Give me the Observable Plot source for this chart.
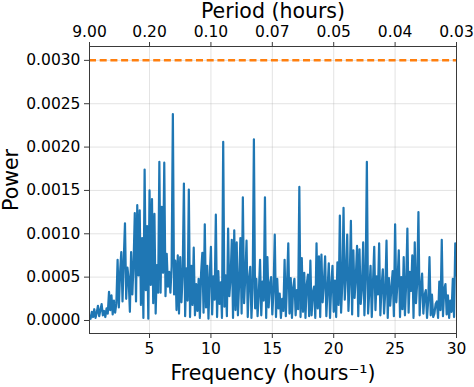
<!DOCTYPE html>
<html><head><meta charset="utf-8">
<script src="https://cdn.jsdelivr.net/npm/d3@7"></script>
<script src="https://cdn.jsdelivr.net/npm/@observablehq/plot@0.6"></script>
<style>body{margin:0;background:#fff;}</style>
</head><body><div id="chart"></div>
<script>
const frequency = [
0.1,0.2,0.3,0.4,0.5,0.6,0.7,0.8,0.9,1.0,
1.1,1.2,1.3,1.4,1.5,1.6,1.7,1.8,1.9,2.0,
2.1,2.2,2.3,2.4,2.5,2.6,2.7,2.8,2.9,3.0,
3.1,3.2,3.3,3.4,3.5,3.6,3.7,3.8,3.9,4.0,
4.1,4.2,4.3,4.4,4.5,4.6,4.7,4.8,4.9,5.0,
5.1,5.2,5.3,5.4,5.5,5.6,5.7,5.8,5.9,6.0,
6.1,6.2,6.3,6.4,6.5,6.6,6.7,6.8,6.9,7.0,
7.1,7.2,7.3,7.4,7.5,7.6,7.7,7.8,7.9,8.0,
8.1,8.2,8.3,8.4,8.5,8.6,8.7,8.8,8.9,9.0,
9.1,9.2,9.3,9.4,9.5,9.6,9.7,9.8,9.9,10.0,
10.1,10.2,10.3,10.4,10.5,10.6,10.7,10.8,10.9,11.0,
11.1,11.2,11.3,11.4,11.5,11.6,11.7,11.8,11.9,12.0,
12.1,12.2,12.3,12.4,12.5,12.6,12.7,12.8,12.9,13.0,
13.1,13.2,13.3,13.4,13.5,13.6,13.7,13.8,13.9,14.0,
14.1,14.2,14.3,14.4,14.5,14.6,14.7,14.8,14.9,15.0,
15.1,15.2,15.3,15.4,15.5,15.6,15.7,15.8,15.9,16.0,
16.1,16.2,16.3,16.4,16.5,16.6,16.7,16.8,16.9,17.0,
17.1,17.2,17.3,17.4,17.5,17.6,17.7,17.8,17.9,18.0,
18.1,18.2,18.3,18.4,18.5,18.6,18.7,18.8,18.9,19.0,
19.1,19.2,19.3,19.4,19.5,19.6,19.7,19.8,19.9,20.0,
20.1,20.2,20.3,20.4,20.5,20.6,20.7,20.8,20.9,21.0,
21.1,21.2,21.3,21.4,21.5,21.6,21.7,21.8,21.9,22.0,
22.1,22.2,22.3,22.4,22.5,22.6,22.7,22.8,22.9,23.0,
23.1,23.2,23.3,23.4,23.5,23.6,23.7,23.8,23.9,24.0,
24.1,24.2,24.3,24.4,24.5,24.6,24.7,24.8,24.9,25.0,
25.1,25.2,25.3,25.4,25.5,25.6,25.7,25.8,25.9,26.0,
26.1,26.2,26.3,26.4,26.5,26.6,26.7,26.8,26.9,27.0,
27.1,27.2,27.3,27.4,27.5,27.6,27.7,27.8,27.9,28.0,
28.1,28.2,28.3,28.4,28.5,28.6,28.7,28.8,28.9,29.0,
29.1,29.2,29.3,29.4,29.5,29.6,29.7,29.8,29.9,30.0
];
// power in units of 1e-4
const powerE4 = [
0.6,0.2,1.0,0.4,1.3,0.3,0.9,1.7,0.5,1.2,
1.9,0.6,1.1,0.4,1.4,0.8,3.3,1.2,2.9,0.7,
2.3,0.9,2.0,7.0,1.5,5.5,7.9,2.2,7.0,11.2,
2.5,6.1,4.8,1.0,7.9,3.0,6.6,12.4,2.2,13.3,
5.2,12.7,1.8,9.5,0.3,17.4,3.5,10.9,0.2,15.0,
4.1,14.0,2.0,12.3,0.8,6.4,3.2,18.3,3.2,13.1,
5.5,18.2,2.8,7.7,3.9,5.6,3.2,6.2,23.8,3.0,
6.9,1.2,7.5,0.8,7.3,2.1,5.4,15.8,0.5,6.0,
2.3,15.1,0.4,6.3,1.8,8.4,0.6,4.2,1.1,4.8,
0.3,5.5,7.8,0.9,11.1,1.5,6.3,0.2,4.9,8.5,
0.7,5.1,2.4,12.2,0.4,5.7,1.9,4.4,0.3,20.6,
1.6,5.2,0.5,10.6,2.8,4.9,9.3,0.3,10.4,1.2,
9.0,0.6,4.4,9.5,0.8,14.2,2.0,5.1,9.2,0.4,
4.7,6.2,0.3,3.8,20.9,1.4,4.8,0.5,3.1,7.0,
0.6,4.5,2.3,14.2,0.3,7.3,1.5,4.2,5.0,0.7,
3.6,9.9,0.4,4.8,1.4,3.1,0.3,2.5,1.1,7.0,
0.5,4.3,8.9,0.8,4.9,0.3,3.8,4.8,0.6,3.5,
1.3,15.4,0.4,7.2,1.0,5.5,0.3,4.1,5.3,0.5,
6.9,0.6,3.2,3.9,0.3,8.9,1.4,7.4,0.4,7.6,
2.1,4.3,7.4,0.5,3.6,6.6,0.3,4.1,6.3,1.0,
4.6,0.4,6.7,1.8,12.1,0.9,4.2,13.0,2.4,5.2,
9.9,1.1,4.5,11.5,0.7,8.1,2.6,5.0,8.6,0.5,
8.2,1.9,3.7,9.0,0.6,4.8,18.3,0.8,3.4,6.3,
0.4,4.4,8.5,1.2,5.1,3.0,8.9,0.6,4.0,5.9,
0.8,3.3,9.2,0.3,4.9,1.7,3.8,5.7,0.5,11.1,
2.1,4.6,8.1,0.4,5.0,1.3,7.3,0.6,4.2,10.6,
0.9,5.6,3.4,7.5,0.3,9.0,2.0,4.4,12.5,0.6,
3.7,5.4,0.8,2.9,3.5,0.3,2.4,7.3,0.6,3.0,
0.4,0.8,1.9,2.2,0.3,4.5,1.2,9.3,0.5,3.6,
4.2,0.7,2.9,0.3,2.3,1.0,4.8,0.4,8.9,5.2
];
const freqTicks = [5, 10, 15, 20, 25, 30];
const periodTickFreqs = [0.111, 5, 10, 15, 20, 25, 30];
const periodTickLabels = ["9.00", "0.20", "0.10", "0.07", "0.05", "0.04", "0.03"];
const powerTicks = [0, 0.0005, 0.001, 0.0015, 0.002, 0.0025, 0.003];
const threshold = [0.003];

const data = frequency.map((f, i) => ({f, p: powerE4[i] * 1e-4}));

const chart = Plot.plot({
  width: 474, height: 387,
  marginLeft: 89, marginRight: 18, marginTop: 46, marginBottom: 54,
  style: {fontFamily: "DejaVu Sans", fontSize: "15.5px", color: "#000", background: "#fff"},
  x: {domain: [0.111, 30]},
  y: {domain: [-0.00015, 0.00316]},
  marks: [
    Plot.gridX(freqTicks, {stroke: "#b0b0b0", strokeOpacity: 0.35}),
    Plot.gridY(powerTicks, {stroke: "#b0b0b0", strokeOpacity: 0.35}),
    Plot.ruleY(threshold, {stroke: "#ff7f0e", strokeWidth: 2.5, strokeDasharray: "7,3.7"}),
    Plot.line(data, {x: "f", y: "p", stroke: "#1f77b4", strokeWidth: 2.2, clip: true}),
    Plot.frame({stroke: "#3a3a3a", strokeWidth: 1}),
    Plot.axisX(freqTicks, {anchor: "bottom", tickSize: 5, tickPadding: 4, label: null, stroke: "#3a3a3a"}),
    Plot.axisX(periodTickFreqs, {anchor: "top", tickSize: 5, tickPadding: 5, label: null, stroke: "#3a3a3a",
      tickFormat: d => periodTickLabels[periodTickFreqs.indexOf(d)]}),
    Plot.axisY(powerTicks, {anchor: "left", tickSize: 5, tickPadding: 4, label: null, stroke: "#3a3a3a",
      tickFormat: d3.format(".4f")}),
    Plot.text(["Period (hours)"], {frameAnchor: "top", dy: -35, fontSize: 20.5, lineAnchor: "middle", textAnchor: "middle"}),
    Plot.text(["Frequency (hours⁻¹)"], {frameAnchor: "bottom", dy: 40, fontSize: 20.5, lineAnchor: "middle", textAnchor: "middle"}),
    Plot.text(["Power"], {frameAnchor: "left", dx: -78, dy: -10, rotate: -90, fontSize: 20.5, lineAnchor: "middle", textAnchor: "middle"})
  ]
});
document.getElementById("chart").appendChild(chart);
</script>
</body></html>
